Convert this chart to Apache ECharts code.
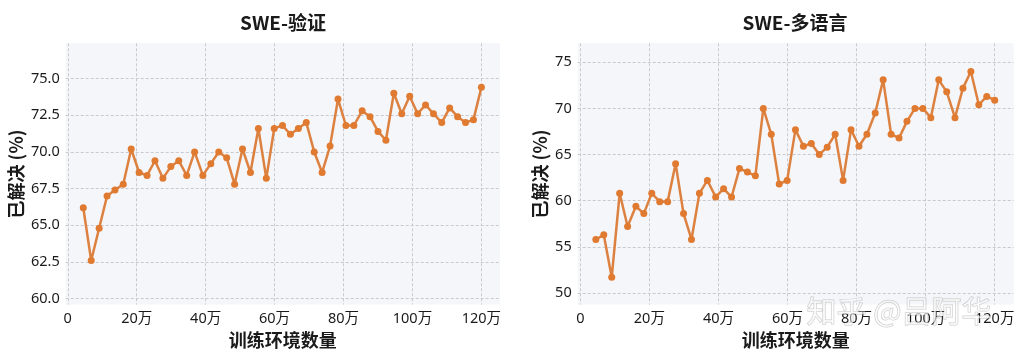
<!DOCTYPE html>
<html>
<head>
<meta charset="utf-8">
<script src="https://cdn.jsdelivr.net/npm/echarts@6/dist/echarts.min.js"></script>
<style>
  html, body { margin: 0; padding: 0; background: #fff; }
  #chart { width: 1024px; height: 354px; }
</style>
</head>
<body>
<div id="chart"></div>
<script>
// 训练环境数量 (万)
const envCounts = [4.5, 6.8, 9.1, 11.4, 13.7, 16.1, 18.4, 20.7, 23.0, 25.3, 27.6, 29.9, 32.2, 34.5, 36.8, 39.2, 41.5,
  43.8, 46.1, 48.4, 50.7, 53.0, 55.3, 57.6, 59.9, 62.3, 64.6, 66.9, 69.2, 71.5, 73.8, 76.1, 78.4, 80.7,
  83.0, 85.4, 87.7, 90.0, 92.3, 94.6, 96.9, 99.2, 101.5, 103.8, 106.1, 108.5, 110.8, 113.1, 115.4, 117.7, 120.0];

// SWE-验证
const verifiedVals = [66.2, 62.6, 64.8, 67.0, 67.4, 67.8, 70.2, 68.6, 68.4, 69.4, 68.2, 69.0, 69.4, 68.4, 70.0, 68.4, 69.2,
  70.0, 69.6, 67.8, 70.2, 68.6, 71.6, 68.2, 71.6, 71.8, 71.2, 71.6, 72.0, 70.0, 68.6, 70.4, 73.6, 71.8,
  71.8, 72.8, 72.4, 71.4, 70.8, 74.0, 72.6, 73.8, 72.6, 73.2, 72.6, 72.0, 73.0, 72.4, 72.0, 72.2, 74.4];

// SWE-多语言
const multiVals = [55.8, 56.3, 51.7, 60.8, 57.2, 59.4, 58.6, 60.8, 59.9, 59.9, 64.0, 58.6, 55.8, 60.8, 62.2, 60.4, 61.3,
  60.4, 63.5, 63.1, 62.7, 70.0, 67.2, 61.8, 62.2, 67.7, 65.9, 66.2, 65.0, 65.8, 67.2, 62.2, 67.7, 65.9,
  67.2, 69.5, 73.1, 67.2, 66.8, 68.6, 70.0, 70.0, 69.0, 73.1, 71.8, 69.0, 72.2, 74.0, 70.4, 71.3, 70.9];

// tick values
const xTicks = [0, 20, 40, 60, 80, 100, 120];
const yTicksVerified = [60.0, 62.5, 65.0, 67.5, 70.0, 72.5, 75.0];
const yTicksMulti = [50, 55, 60, 65, 70, 75];

const titles = ['SWE-验证', 'SWE-多语言'];
const xName = '训练环境数量';
const yName = '已解决 (%)';

const font = '"Noto Sans CJK SC", "Noto Sans", sans-serif';
const tickFont = '"Noto Sans", "Noto Sans CJK SC", sans-serif';
const lineColor = '#dc8140';
const dotColor = '#e07a30';

function pairs(ys) {
  return envCounts.map((x, i) => [x, ys[i]]);
}

const splitStyle = { show: true, lineStyle: { color: '#c9c9ce', type: [3, 2], width: 1 } };

function xAxis(gridIndex, min, max, gap) {
  return {
    type: 'value', gridIndex, min, max,
    name: xName, nameLocation: 'middle', nameGap: gap,
    nameTextStyle: { fontFamily: font, fontSize: 18, fontWeight: 'bold', color: '#1a1a1a' },
    axisLine: { show: false },
    axisTick: { show: false, customValues: xTicks },
    axisLabel: {
      customValues: xTicks, margin: 7,
      fontFamily: tickFont, fontSize: 14.5, color: '#1a1a1a',
      formatter: v => v === 0 ? '0' : v + '万'
    },
    splitLine: splitStyle
  };
}

function yAxis(gridIndex, min, max, ticks, gap, digits) {
  return {
    type: 'value', gridIndex, min, max,
    name: yName, nameLocation: 'middle', nameGap: gap,
    nameTextStyle: { fontFamily: font, fontSize: 18, fontWeight: 'bold', color: '#1a1a1a' },
    axisLine: { show: false },
    axisTick: { show: false, customValues: ticks },
    axisLabel: {
      customValues: ticks, margin: 6,
      fontFamily: tickFont, fontSize: 14.5, color: '#1a1a1a',
      formatter: v => v.toFixed(digits)
    },
    splitLine: splitStyle
  };
}

function series(idx, ys) {
  return {
    type: 'line', xAxisIndex: idx, yAxisIndex: idx,
    data: pairs(ys), clip: false,
    symbol: 'circle', symbolSize: 7,
    lineStyle: { color: lineColor, width: 2.5 },
    itemStyle: { color: dotColor },
    z: 3
  };
}

const chart = echarts.init(document.getElementById('chart'));
chart.setOption({
  animation: false,
  backgroundColor: '#fff',
  title: [
    { text: titles[0], left: 278, top: 8, textAlign: 'center',
      textStyle: { fontFamily: font, fontSize: 19, fontWeight: 'bold', color: '#1a1a1a' } },
    { text: titles[1], left: 790, top: 8, textAlign: 'center',
      textStyle: { fontFamily: font, fontSize: 19, fontWeight: 'bold', color: '#1a1a1a' } }
  ],
  grid: [
    { left: 65.7, top: 43.3, width: 434.3, height: 261.7, show: true, backgroundColor: '#f5f6f9', borderWidth: 0 },
    { left: 577.7, top: 43.3, width: 436, height: 261.7, show: true, backgroundColor: '#f5f6f9', borderWidth: 0 }
  ],
  xAxis: [xAxis(0, -0.6, 125.4, 19), xAxis(1, -0.75, 125.5, 19)],
  yAxis: [yAxis(0, 59.6, 77.4, yTicksVerified, 41, 1), yAxis(1, 48.74, 77.06, yTicksMulti, 29, 0)],
  series: [series(0, verifiedVals), series(1, multiVals)],
  graphic: [{
    type: 'text', left: 806, top: 295, z: 10,
    style: {
      text: '知乎 @吕阿华', fontFamily: font, fontSize: 30,
      fill: 'rgba(255,255,255,0.6)', stroke: 'rgba(140,140,140,0.45)', lineWidth: 1
    }
  }]
});
</script>
</body>
</html>
